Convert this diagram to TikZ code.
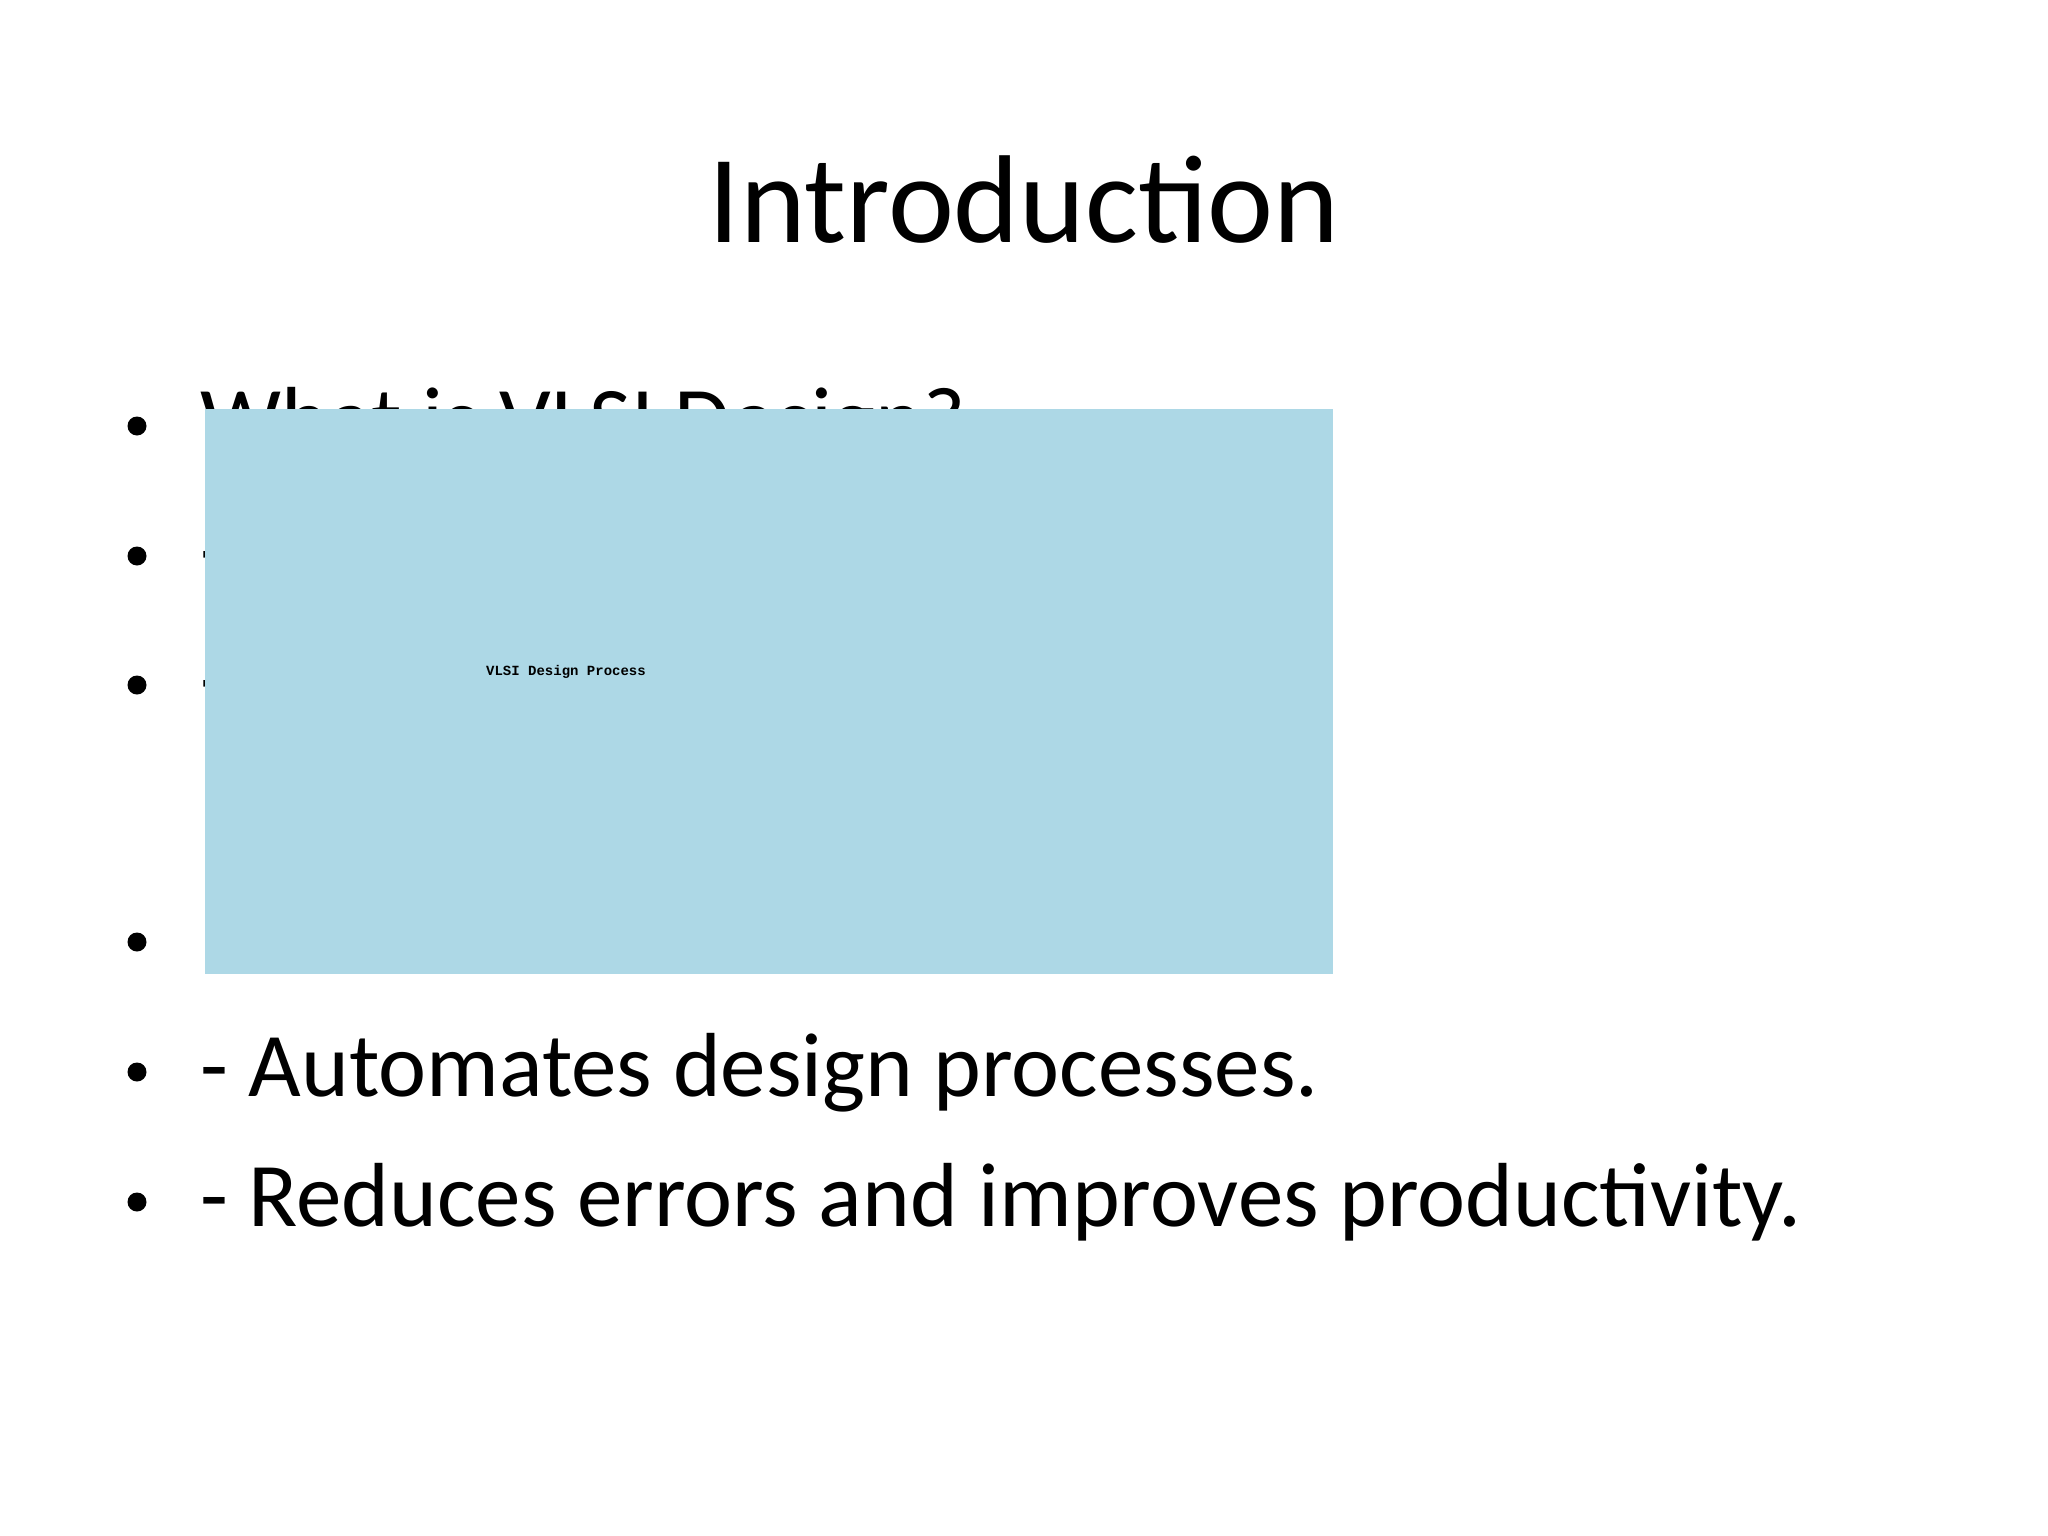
\documentclass[tikz,border=0pt]{standalone}
\usepackage{fontspec}
\setmainfont{Carlito}
\newfontfamily\monof{Liberation Mono}
\definecolor{boxblue}{HTML}{ADD8E6}
\begin{document}
\begin{tikzpicture}[x=1pt,y=-1pt,
  body/.style={anchor=base west,inner sep=0pt,font=\fontsize{91}{104}\selectfont},
  dot/.style={circle,fill=black,inner sep=0pt,minimum size=19pt}]
\useasboundingbox (0,0) rectangle (2048,1536);
\node[anchor=base,inner sep=0pt,font=\fontsize{125}{140}\selectfont] (title) at (1024,242) {Introduction};
\foreach \y/\t [count=\i] in {450/What is VLSI Design?,580/-,709/-,966/,1096/- Automates design processes.,1226/- Reduces errors and improves productivity.}{
  \node[dot] (b\i) at (137,\y-24) {};
  \node[body] (t\i) at (200,\y) {\t};
}
\node[fill=boxblue,draw=none,inner sep=0pt,minimum width=1128pt,minimum height=565pt,anchor=north west] (box) at (205,409) {};
\node[font=\monof\bfseries\fontsize{14}{16}\selectfont,inner sep=0pt] (lbl) at (566,672) {VLSI Design Process};
\end{tikzpicture}
\end{document}
